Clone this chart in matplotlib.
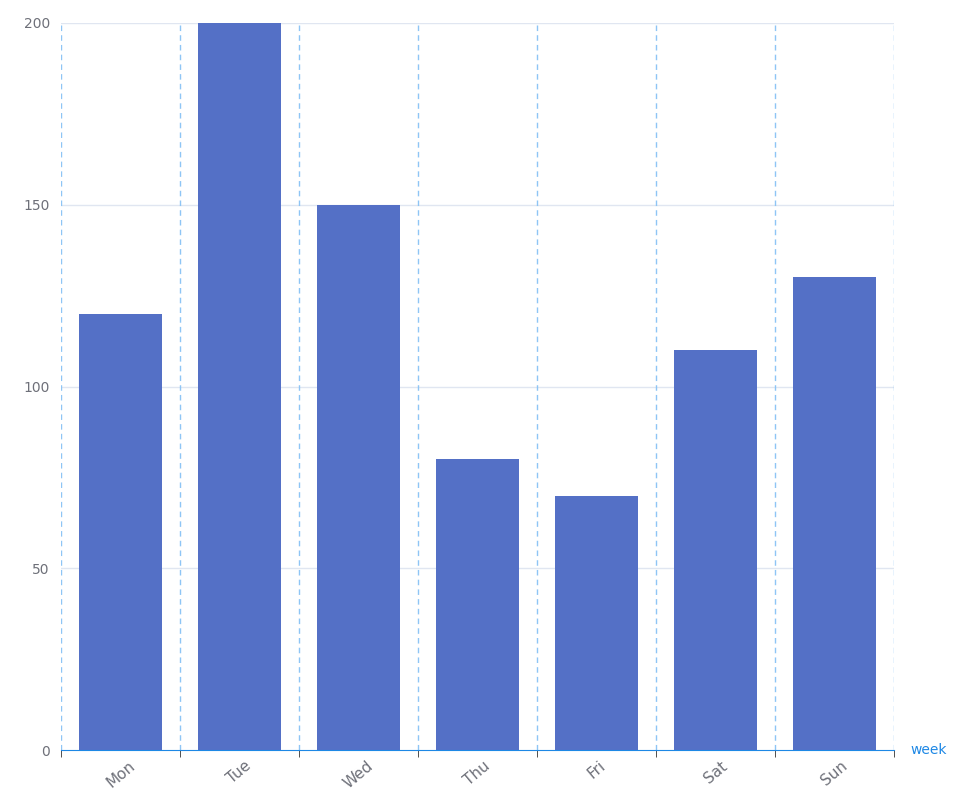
import matplotlib
matplotlib.use("Agg")
import matplotlib.pyplot as plt

categories = ["Mon", "Tue", "Wed", "Thu", "Fri", "Sat", "Sun"]
values = [120, 200, 150, 80, 70, 110, 130]
yticks = [0, 50, 100, 150, 200]

fig = plt.figure(figsize=(9.6, 7.99), dpi=100)
ax = fig.add_axes([61/960, 49/799, 833/960, 727/799])
x = list(range(len(categories)))
ax.bar(x, values, width=0.69, color="#5470c6", zorder=3)
ax.set_xlim(-0.5, len(categories) - 0.5)
ax.set_ylim(0, 200)
ax.set_yticks(yticks)
ax.set_yticklabels([str(v) for v in yticks], color="#6e7079", fontsize=10)
ax.tick_params(axis="y", length=0, pad=8)
for yv in yticks[1:]:
    ax.axhline(yv, color="#e0e6f1", lw=1, zorder=1)
for b in range(len(categories) + 1):
    ax.axvline(b - 0.5, color="#8ec5f5", lw=1, ls=(0, (4, 3)), zorder=2)
ax.set_xticks(x)
ax.set_xticklabels(categories, rotation=40, color="#6e7079", fontsize=11)
ax.set_xticks([b - 0.5 for b in range(len(categories) + 1)], minor=True)
ax.tick_params(axis="x", which="major", length=0, pad=6)
ax.tick_params(axis="x", which="minor", length=5, color="#333333")
for s in ["top", "right", "left"]:
    ax.spines[s].set_visible(False)
ax.spines["bottom"].set_color("#1e88e5")
ax.spines["bottom"].set_zorder(4)
ax.text(1.02, 0, "week", transform=ax.transAxes, color="#1e88e5", fontsize=10, va="center", ha="left")
fig.savefig("out.png", dpi=100)
